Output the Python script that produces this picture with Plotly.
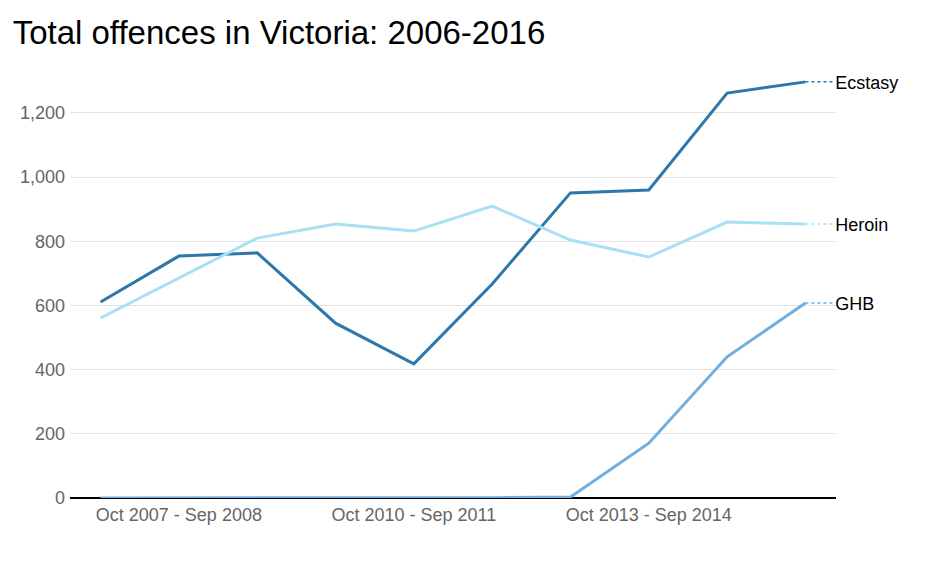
import plotly.graph_objects as go

periods = [
    "Oct 2006 - Sep 2007", "Oct 2007 - Sep 2008", "Oct 2008 - Sep 2009",
    "Oct 2009 - Sep 2010", "Oct 2010 - Sep 2011", "Oct 2011 - Sep 2012",
    "Oct 2012 - Sep 2013", "Oct 2013 - Sep 2014", "Oct 2014 - Sep 2015",
    "Oct 2015 - Sep 2016",
]
ecstasy = [611, 754, 764, 545, 418, 667, 951, 960, 1262, 1297]
heroin = [561, 686, 810, 854, 832, 910, 804, 751, 860, 854]
ghb = [0, 0, 0, 0, 0, 1, 3, 171, 440, 608]

series = [
    ("Ecstasy", ecstasy, "#2e77aa"),
    ("Heroin", heroin, "#a8e1f5"),
    ("GHB", ghb, "#70afe0"),
]

idx = list(range(len(periods)))
shown = [1, 4, 7]

fig = go.Figure()
for name, vals, col in series:
    fig.add_trace(go.Scatter(x=idx, y=vals, name=name, mode="lines",
                             line=dict(color=col, width=3),
                             hovertext=periods, showlegend=False))
    # dotted leader + end label
    last = idx[-1]
    fig.add_trace(go.Scatter(x=[last, last + 0.36], y=[vals[-1], vals[-1]],
                             mode="lines", line=dict(color=col, width=1.5, dash="dot"),
                             hoverinfo="skip", showlegend=False, cliponaxis=False))
    fig.add_trace(go.Scatter(x=[last + 0.38], y=[vals[-1] - 8], mode="text", text=[name],
                             textposition="middle right", cliponaxis=False,
                             textfont=dict(size=18, color="black"),
                             hoverinfo="skip", showlegend=False))

fig.update_layout(
    width=928, height=576,
    paper_bgcolor="white", plot_bgcolor="white",
    font=dict(family="Liberation Sans, Arial, sans-serif"),
    title=dict(text="Total offences in Victoria: 2006-2016", x=0.005, xanchor="left",
               y=0.957, yanchor="middle", font=dict(size=33, color="black")),
    margin=dict(l=60, r=100, t=62, b=86),
)
fig.update_xaxes(range=[-0.39, 9.39], tickvals=shown,
                 ticktext=[periods[i] for i in shown], showgrid=False,
                 zeroline=False, ticks="", ticklabelstandoff=4,
                 tickfont=dict(size=18, color="#666666"))
fig.update_yaxes(range=[0, 1334], tickvals=[0, 200, 400, 600, 800, 1000, 1200],
                 tickformat=",", gridcolor="#e3e3e3", zeroline=True,
                 zerolinecolor="black", zerolinewidth=2,
                 tickfont=dict(size=18, color="#666666"), ticks="", ticklabelstandoff=4)

fig.write_html("out.html")
